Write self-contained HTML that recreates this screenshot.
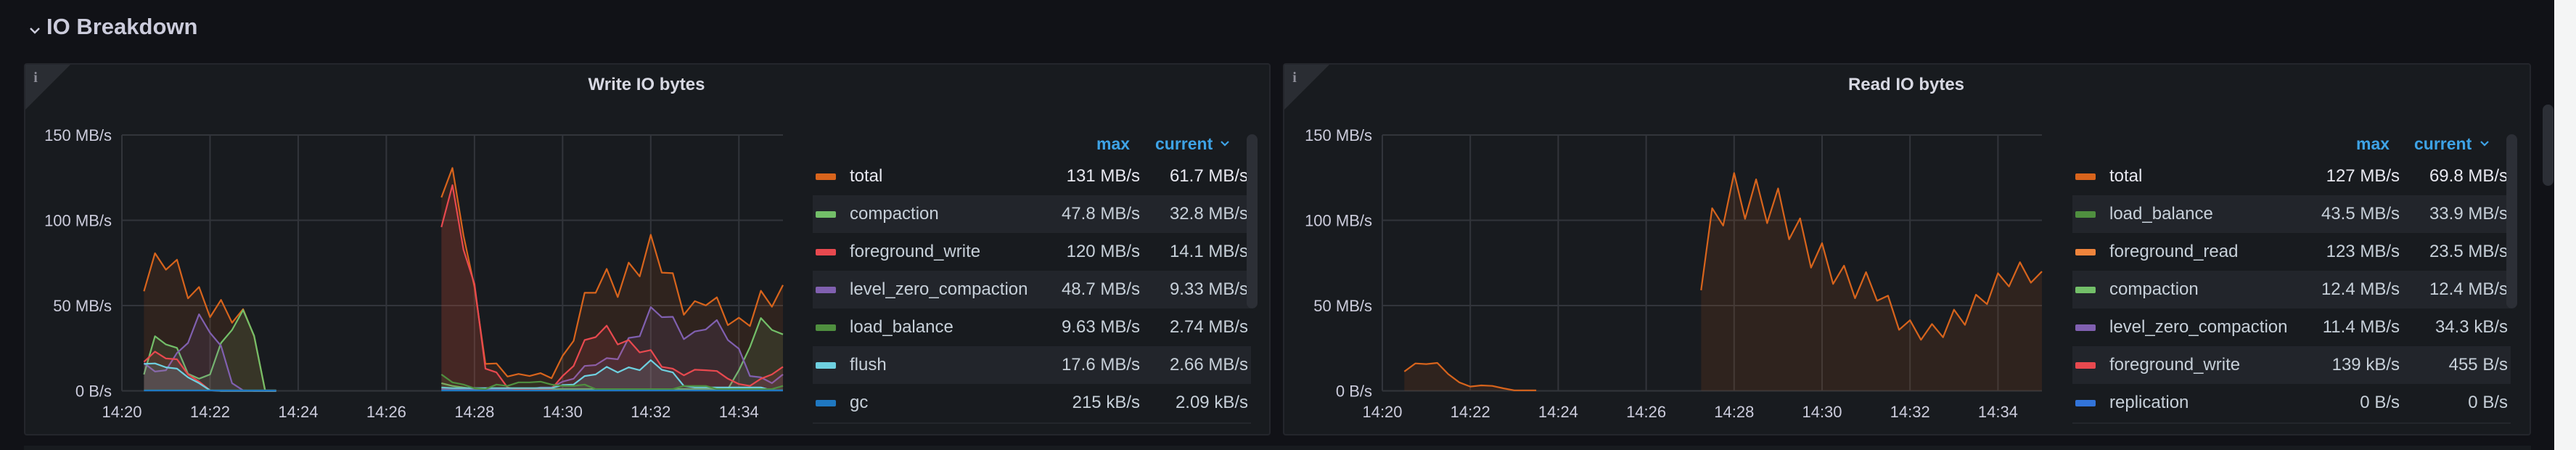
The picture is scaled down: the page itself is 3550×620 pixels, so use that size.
<!DOCTYPE html>
<html><head><meta charset="utf-8"><style>
*{margin:0;padding:0;box-sizing:border-box}
body{width:3550px;height:620px;background:#111217;overflow:hidden;position:relative;font-family:"Liberation Sans",sans-serif;color:#ccccdc}
.abs{position:absolute}
.panel{position:absolute;top:87px;height:513px;background:#181b1f;border:2px solid #24262c;border-radius:4px}
.title{position:absolute;top:103px;font-size:24px;font-weight:bold;color:#d8d9e3;transform:translateX(-50%);white-space:nowrap}
.lg-head{position:absolute;top:185px;font-size:23px;font-weight:bold;color:#3ea3e6}
.row{position:absolute;height:52px;font-size:24px;line-height:52px;color:#c7d0d9}
.row.alt{background:#22252b}
.sw{position:absolute;top:22px;width:28px;height:9px;border-radius:2px}
.nm{position:absolute}
.v{position:absolute;text-align:right;white-space:nowrap}
.scroll{position:absolute;width:15px;border-radius:8px;background:#2c2f36}
</style></head><body>
<svg class="abs" style="left:40px;top:37px" width="16" height="10"><polyline points="2,2 8,8 14,2" fill="none" stroke="#ccccdc" stroke-width="2.4"/></svg>
<div class="abs" style="left:64px;top:19px;font-size:31px;font-weight:bold;color:#ccccdc">IO Breakdown</div>

<div class="panel" style="left:33px;width:1718px"></div>
<div class="panel" style="left:1768px;width:1720px"></div>
<div class="abs" style="left:33px;top:614px;width:3455px;height:6px;background:#181b1f"></div>
<div class="abs" style="left:3504px;top:144px;width:15px;height:112px;border-radius:8px;background:#2c2f36"></div>
<div class="abs" style="left:3520px;top:0;width:30px;height:620px;background:#f4f5f5"></div>

<svg class="abs" style="left:0;top:0" width="3550" height="620" id="svg">
<polygon points="35,89 97,89 35,151" fill="#2a2d33"/>
<text x="49" y="113" font-size="20" font-weight="bold" fill="#8e8e99" text-anchor="middle" font-family="Liberation Serif">i</text>
<polygon points="1770,89 1832,89 1770,151" fill="#2a2d33"/>
<text x="1784" y="113" font-size="20" font-weight="bold" fill="#8e8e99" text-anchor="middle" font-family="Liberation Serif">i</text>
<polyline points="1683,195 1688,200 1693,195" fill="none" stroke="#3ea3e6" stroke-width="2.2"/>
<polyline points="3419,195 3424,200 3429,195" fill="none" stroke="#3ea3e6" stroke-width="2.2"/>
<g id="wg"></g><g id="rg"></g>
</svg>

<div class="title" style="left:891px">Write IO bytes</div>
<div class="title" style="left:2627px">Read IO bytes</div>

<div class="lg-head" style="left:1511px">max</div>
<div class="lg-head" style="left:1592px">current</div>
<div class="lg-head" style="left:3247px">max</div>
<div class="lg-head" style="left:3327px">current</div>
<div id="wl"></div><div id="rl"></div>
<div class="scroll" style="left:1718px;top:185px;height:240px"></div>
<div class="scroll" style="left:3454px;top:185px;height:240px"></div>
<div class="abs" style="left:1120px;top:582px;width:604px;height:2px;background:#24262c"></div>
<div class="abs" style="left:2856px;top:582px;width:604px;height:2px;background:#24262c"></div>

<script>
// x categories: minutes after 14:20
const seg1Times = [0.5,0.75,1,1.25,1.5,1.75,2,2.25,2.5,2.75,3,3.25,3.5];
const seg2Times = [7.25,7.5,7.75,8,8.25,8.5,8.75,9,9.25,9.5,9.75,10,10.25,10.5,10.75,11,11.25,11.5,11.75,12,12.25,12.5,12.75,13,13.25,13.5,13.75,14,14.25,14.5,14.75,15];
const xTickLabels = ["14:20","14:22","14:24","14:26","14:28","14:30","14:32","14:34"];
const xTickMinutes = [0,2,4,6,8,10,12,14];
const yTickValues = [0,50,100,150];
const yTickLabels = ["0 B/s","50 MB/s","100 MB/s","150 MB/s"];

// Write IO series (MB/s)
const wTotal1 = [58.4,80.7,71,76.9,54.2,60.9,43.2,53.3,39.9,47.9,32,0.3,0.3];
const wTotal2 = [113.4,130.7,91.2,60.9,15.8,16.1,8.4,9.9,8.7,10.4,7.4,20.5,29.3,57.5,57.5,71.5,55,75.2,67.1,91.5,69.3,69,44.6,52.6,50.1,54.8,38.5,42.9,38,58.7,49.3,62];
const wComp1 = [9.6,32,27.2,25.2,10,7.1,9.6,28.1,35.7,47.4,32.3,0,0];
const wComp2 = [4.5,2.9,2,1,1,1,1,1,1,1,1,1,1,1,1,1,1,1,1,1,1,1,1,1,1,1,1,12.1,25.6,42.7,35.7,33.1];
const wFg1 = [17,23,19,18.5,9.6,5.4,0.3,0,0,0,0,0,0];
const wFg2 = [96,120.6,82.8,62.6,13,10.8,2,0.7,1.2,1.2,1.2,8.7,14.6,29.8,31.5,38.2,27.2,29.8,22.5,23.9,14.1,13,9.1,12.4,12.1,11.6,7.1,4,2.9,7.1,9.6,14.1];
const wL0_1 = [16.3,11.3,12.1,22.2,28.1,44.9,34,26.4,4.5,0.3,0,0,0];
const wL0_2 = [1,1,1,1,1,1,1,1,1,2,2,5.4,7.1,14.6,15.1,19.2,18.5,31,32,49.1,43.2,43.4,30.3,34.8,36,41.5,29.8,24.7,8.7,7.9,4.5,9.6];
const wLb1 = [0.3,0.3,0.3,0.3,0.3,0.3,0.3,0.3,0.3,0.3,0.3,0.3,0.3];
const wLb2 = [9.6,5,3.7,1.5,1,3.7,2.9,5,5,5.4,3.7,2.9,2.9,3.7,1,1,1,1,1,1,1,1,2.9,2.9,2.9,1,1,1,1,1,1,2.9];
const wFlush1 = [15.8,16.1,13.8,13,7.9,4.5,0.3,0,0,0,0,0,0];
const wFlush2 = [2,1.6,1.6,1.6,1.6,1.6,1.6,1.6,1.6,1.6,1.6,3.4,3.7,8.7,9.6,14.1,10.8,13.8,12.1,18,12.4,10.8,2.9,2,2,2,2,2,2,2,0.3,0.3];
const wGc1 = [0.2,0.2,0.2,0.2,0.2,0.2,0.2,0.2,0.2,0.2,0.2,0.2,0.2];
const wGc2 = [0.2,0.2,0.2,0.2,0.2,0.2,0.2,0.2,0.2,0.2,0.2,0.2,0.2,0.2,0.2,0.2,0.2,0.2,0.2,0.2,0.2,0.2,0.2,0.2,0.2,0.2,0.2,0.2,0.2,0.2,0.2,0.2];
// Read IO series
const rTotal1 = [11.3,16.1,15.7,16.4,9.8,5,2.5,3.2,2.9,1.5,0.3,0.3,0.3];
const rTotal2 = [59,107.1,96.9,127.7,100.8,124,98.3,118.7,88.8,101.1,72.2,86.6,62.7,73.4,54.3,69.6,52.8,55.8,35.8,41.4,29.9,39.2,31.4,47.6,38.7,56.4,50.8,69,61.2,75.4,63.4,70];

const wLegendNames = ["total","compaction","foreground_write","level_zero_compaction","load_balance","flush","gc"];
const wLegendMax = ["131 MB/s","47.8 MB/s","120 MB/s","48.7 MB/s","9.63 MB/s","17.6 MB/s","215 kB/s"];
const wLegendCur = ["61.7 MB/s","32.8 MB/s","14.1 MB/s","9.33 MB/s","2.74 MB/s","2.66 MB/s","2.09 kB/s"];
const rLegendNames = ["total","load_balance","foreground_read","compaction","level_zero_compaction","foreground_write","replication"];
const rLegendMax = ["127 MB/s","43.5 MB/s","123 MB/s","12.4 MB/s","11.4 MB/s","139 kB/s","0 B/s"];
const rLegendCur = ["69.8 MB/s","33.9 MB/s","23.5 MB/s","12.4 MB/s","34.3 kB/s","455 B/s","0 B/s"];

const C = {total:"#d8641c",compaction:"#73bf69",foreground_write:"#e8494f",level_zero_compaction:"#8060b0",load_balance:"#4f8f3f",flush:"#6ed0e0",gc:"#1f78c1",foreground_read:"#ef843c",replication:"#3274d9"};
const NS="http://www.w3.org/2000/svg";
function mk(tag,attrs,parent){const e=document.createElementNS(NS,tag);for(const k in attrs)e.setAttribute(k,attrs[k]);parent.appendChild(e);return e;}

function drawChart(g,x0,x1,prefix,series){
  const yTop=186, yBot=538.5, vmax=150, tmax=15;
  const X=t=>x0+(x1-x0)*t/tmax, Y=v=>yBot-(yBot-yTop)*v/vmax;
  yTickValues.forEach((v,i)=>{
    const l=mk('line',{x1:x0,x2:x1,y1:Y(v),y2:Y(v),stroke:"#32353b","stroke-width":2},g);
    
    
    const t=mk('text',{x:x0-14,y:Y(v)+8,"font-size":22,fill:"#ccccdc","text-anchor":"end"},g);
    t.textContent=yTickLabels[i];
    
    
  });
  xTickMinutes.forEach((m,i)=>{
    const l=mk('line',{x1:X(m),x2:X(m),y1:yTop,y2:yBot,stroke:"#32353b","stroke-width":2},g);
    
    
    const t=mk('text',{x:X(m),y:575,"font-size":22,fill:"#ccccdc","text-anchor":"middle"},g);
    t.textContent=xTickLabels[i];
    
    
  });
  series.forEach(s=>{
    [[seg1Times,s.a],[seg2Times,s.b]].forEach(([ts,vs])=>{
      const pts=ts.map((t,i)=>X(t).toFixed(1)+","+Y(vs[i]).toFixed(1));
      const area=mk('path',{d:"M"+X(ts[0])+","+yBot+" L"+pts.join(" L")+" L"+X(ts[ts.length-1])+","+yBot+" Z",fill:s.c,"fill-opacity":0.12,stroke:"none"},g);
      
      
      const ln=mk('path',{d:"M"+pts.join(" L"),fill:"none",stroke:s.c,"stroke-width":2.2,"stroke-linejoin":"round"},g);
      
      
    });
  });
}
drawChart(document.getElementById('wg'),168,1079,'write',[
  {n:"total",c:C.total,a:wTotal1,b:wTotal2},
  {n:"compaction",c:C.compaction,a:wComp1,b:wComp2},
  {n:"level-zero-compaction",c:C.level_zero_compaction,a:wL0_1,b:wL0_2},
  {n:"foreground-write",c:C.foreground_write,a:wFg1,b:wFg2},
  {n:"flush",c:C.flush,a:wFlush1,b:wFlush2},
  {n:"load-balance",c:C.load_balance,a:wLb1,b:wLb2},
  {n:"gc",c:C.gc,a:wGc1,b:wGc2}
]);
drawChart(document.getElementById('rg'),1905,2814,'read',[
  {n:"total",c:C.total,a:rTotal1,b:rTotal2}
]);

function legend(host,prefix,left,width,names,maxs,curs,swX,nmX,maxR,curR){
  names.forEach((n,i)=>{
    const r=document.createElement('div');
    r.className='row'+(i%2?' alt':'');
    r.style.left=left+'px';r.style.width=width+'px';r.style.top=(217+i*52)+'px';
    
    
    if(i===0)r.style.color='#e8e8f0';
    r.innerHTML='<div class="sw" style="left:'+(swX-left)+'px;background:'+C[n]+'"></div><div class="nm" style="left:'+(nmX-left)+'px">'+n+'</div><div class="v" style="right:'+(left+width-maxR)+'px">'+maxs[i]+'</div><div class="v" style="right:'+(left+width-curR)+'px">'+curs[i]+'</div>';
    host.appendChild(r);
  });
}
legend(document.getElementById('wl'),'write',1120,604,wLegendNames,wLegendMax,wLegendCur,1124,1171,1571,1720);
legend(document.getElementById('rl'),'read',2856,604,rLegendNames,rLegendMax,rLegendCur,2860,2907,3307,3456);
</script>
</body></html>
